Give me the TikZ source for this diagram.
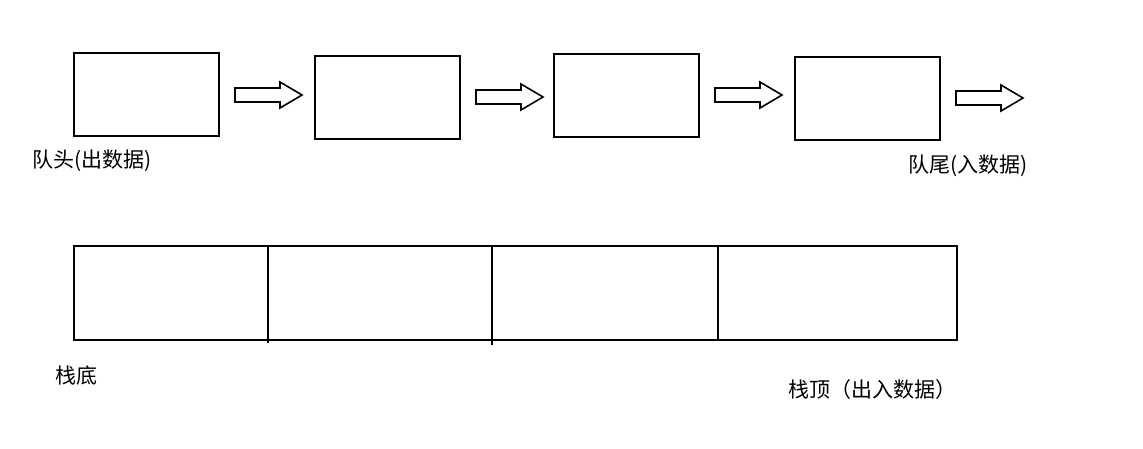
\documentclass[tikz,border=0pt]{standalone}
\usepackage{fontspec}
\newfontfamily\cjk{Noto Sans CJK SC}
\tikzset{box/.style={draw,line width=2pt,minimum width=145pt,minimum height=83pt,inner sep=0},
lbl/.style={font=\cjk\fontsize{21pt}{24pt}\selectfont,inner sep=0,anchor=west},
barrow/.style={line width=1.6pt}}
\newcommand{\blockarrow}[2]{\draw[barrow] (#1,#2-7) -- ++(45,0) -- ++(0,-6) -- ++(22,13) -- ++(-22,13) -- ++(0,-6) -- ++(-45,0) -- cycle;}
\begin{document}
\begin{tikzpicture}[x=1pt,y=-1pt]
\useasboundingbox (0,0) rectangle (1143,448);
\node[box] (q1) at (146.5,94.5) {};
\node[box] (q2) at (387.5,97.5) {};
\node[box] (q3) at (626.5,95.5) {};
\node[box] (q4) at (867.5,98.5) {};
\blockarrow{235}{95}
\blockarrow{476}{97}
\blockarrow{715}{95}
\blockarrow{956}{98}
\node[lbl] (qh) at (32,161) {队头(出数据)};
\node[lbl] (qt) at (908,166) {队尾(入数据)};
\draw[line width=2pt] (74,246) rectangle (957,340);
\draw[line width=2pt] (268,246) -- (268,343);
\draw[line width=2pt] (492,246) -- (492,345);
\draw[line width=2pt] (718,246) -- (718,340);
\node[lbl] (sb) at (55,376) {栈底};
\node[lbl] (st) at (788,390) {栈顶（出入数据）};
\end{tikzpicture}
\end{document}
